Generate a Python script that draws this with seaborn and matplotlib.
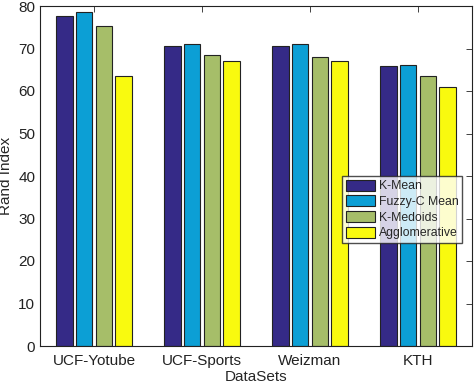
import numpy as np
import pandas as pd
import matplotlib
matplotlib.use("Agg")
import matplotlib.pyplot as plt
import seaborn as sns

# data
datasets = ["UCF-Yotube", "UCF-Sports", "Weizman", "KTH"]
methods = ["K-Mean", "Fuzzy-C Mean", "K-Medoids", "Agglomerative"]
k_mean = [77.7, 70.6, 70.6, 65.8]
fuzzy_c_mean = [78.6, 71.1, 71.1, 66.2]
k_medoids = [75.4, 68.5, 68.1, 63.6]
agglomerative = [63.6, 67.1, 67.1, 60.9]
colors = ["#352A87", "#0C9FD5", "#A6BE69", "#F9FA0F"]

df = pd.DataFrame({"DataSets": datasets, "K-Mean": k_mean,
                   "Fuzzy-C Mean": fuzzy_c_mean, "K-Medoids": k_medoids,
                   "Agglomerative": agglomerative})
long = df.melt(id_vars="DataSets", var_name="Method", value_name="Rand Index")

sns.set_theme(style="white")
plt.rcParams["font.family"] = ["Liberation Sans", "DejaVu Sans"]

fig = plt.figure(figsize=(4.74, 3.86), dpi=100)
ax = fig.add_axes([40 / 474, 1 - 346 / 386, 432 / 474, 340 / 386])

sns.barplot(data=long, x="DataSets", y="Rand Index", hue="Method",
            hue_order=methods, palette=colors, width=0.73, gap=0.17,
            edgecolor="#222222", linewidth=0.8, saturation=1, ax=ax)

ax.set_xlim(-0.5, 3.5)
ax.set_ylim(0, 80)
ax.set_yticks(range(0, 81, 10))
ax.set_xlabel("DataSets", fontsize=11, labelpad=1)
ax.set_ylabel("Rand Index", fontsize=11, labelpad=4)
ax.tick_params(axis="both", direction="in", length=4, width=0.6,
               top=True, right=True, labelsize=11, colors="#222222")
ax.tick_params(axis="x", pad=6)
for s in ax.spines.values():
    s.set_color("#222222")
    s.set_linewidth(0.8)

ax.legend(loc="upper left", bbox_to_anchor=(0.70, 0.50), fontsize=8.8,
          frameon=True, fancybox=False, edgecolor="#222222",
          handlelength=2.4, handleheight=1.0, borderpad=0.3,
          labelspacing=0.25, handletextpad=0.3, borderaxespad=0)

fig.savefig("out.png", dpi=100)
